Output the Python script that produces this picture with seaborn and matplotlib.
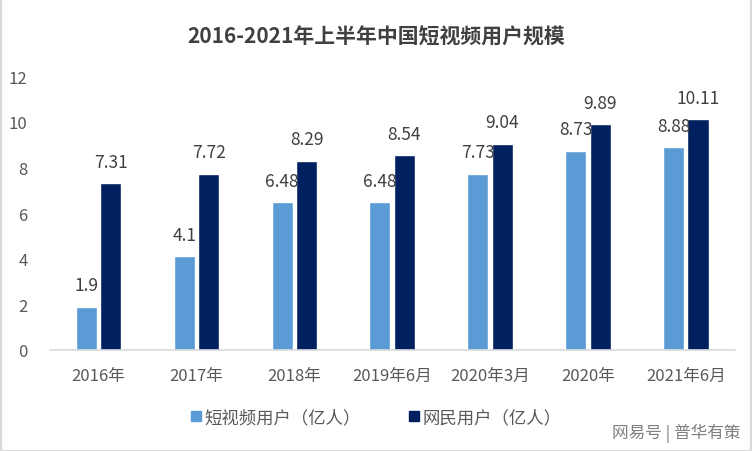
import matplotlib
matplotlib.use("Agg")
import matplotlib.pyplot as plt
import seaborn as sns
import pandas as pd
from matplotlib.patches import Rectangle

categories = ["2016年", "2017年", "2018年", "2019年6月", "2020年3月", "2020年", "2021年6月"]
short_video = [1.9, 4.1, 6.48, 6.48, 7.73, 8.73, 8.88]
netizens = [7.31, 7.72, 8.29, 8.54, 9.04, 9.89, 10.11]
series_names = ["短视频用户（亿人）", "网民用户（亿人）"]
yticks = [0, 2, 4, 6, 8, 10, 12]
title = "2016-2021年上半年中国短视频用户规模"
watermark = "网易号 | 普华有策"

sns.set_theme(style="white")
plt.rcParams['font.family'] = ['Noto Sans CJK SC', 'DejaVu Sans']

df = pd.DataFrame({
    "cat": categories * 2,
    "val": short_video + netizens,
    "series": [series_names[0]] * len(categories) + [series_names[1]] * len(categories),
})

fig = plt.figure(figsize=(7.52, 4.52), dpi=100)
ax = fig.add_axes([0.066, 0.2235, 0.911, 0.606])
palette = ["#5B9BD5", "#002060"]
sns.barplot(data=df, x="cat", y="val", hue="series", palette=palette,
            width=0.5, gap=0.14, ax=ax, legend=False, saturation=1)

ax.set_ylim(0, 12)
ax.set_yticks(yticks)
ax.set_yticklabels([str(t) for t in yticks], color="#595959", fontsize=12)
ax.tick_params(axis="x", colors="#595959", labelsize=12, length=0, pad=12)
ax.tick_params(axis="y", length=0, pad=16)
ax.set_xlabel("")
ax.set_ylabel("")
for s in ["top", "right", "left"]:
    ax.spines[s].set_visible(False)
ax.spines["bottom"].set_color("#D9D9D9")
ax.spines["bottom"].set_linewidth(1.2)

for cont in ax.containers:
    labels = [("%g" % v) for v in cont.datavalues]
    ax.bar_label(cont, labels=labels, padding=9, color="#404040", fontsize=12.5)

fig.text(0.5, 0.918, title, ha="center", va="center", fontsize=15,
         fontweight="bold", color="#404040")

# legend
handles = [Rectangle((0, 0), 1, 1, color=c) for c in palette]
fig.legend(handles, series_names, loc="center", bbox_to_anchor=(0.5, 0.075),
           ncol=2, frameon=False, fontsize=12.5, handlelength=0.55, handleheight=0.55,
           handletextpad=0.2, columnspacing=2.8, labelcolor="#595959")

fig.text(0.985, 0.042, watermark, ha="right", va="center", fontsize=12, color="#808080")

# figure border
fig.patches.append(Rectangle((0.001, 0.001), 0.998, 0.998, transform=fig.transFigure,
                             fill=False, edgecolor="#D9D9D9", linewidth=1.5))

fig.savefig("out.png", dpi=100)
